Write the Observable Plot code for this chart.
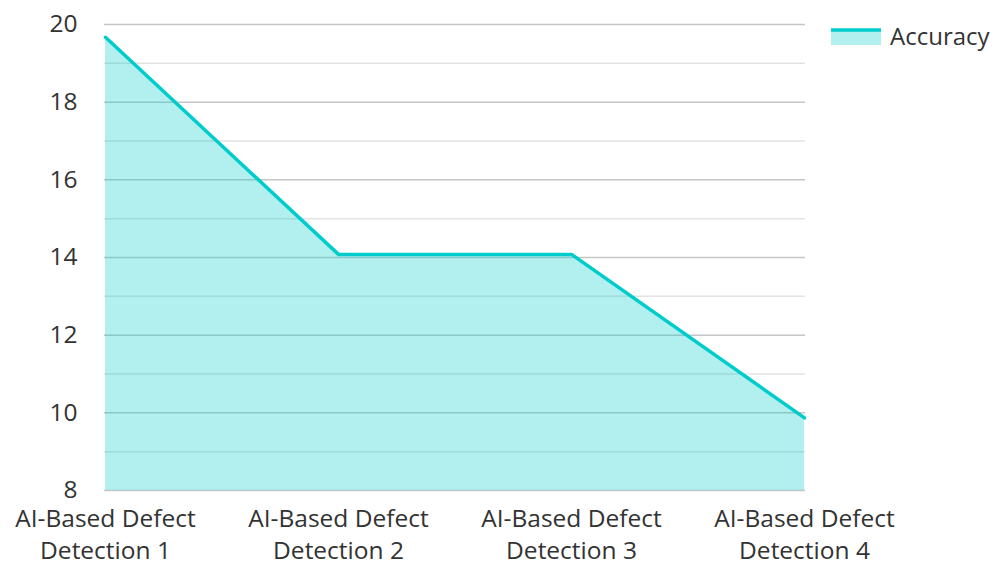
<!DOCTYPE html>
<html>
<head>
<meta charset="utf-8">
<script src="https://cdn.jsdelivr.net/npm/d3@7"></script>
<script src="https://cdn.jsdelivr.net/npm/@observablehq/plot@0.6"></script>
<style>
  html, body { margin: 0; padding: 0; background: #fff; }
  body { width: 995px; height: 562px; position: relative; overflow: hidden; font-family: "Open Sans", sans-serif; }
  #chart svg text { font-size: 24.5px !important; font-family: "Open Sans", sans-serif; fill: #333; }
  #legend { position: absolute; left: 831px; top: 19px; display: flex; align-items: center; font-size: 24px; color: #333; }
  #legend svg { margin-right: 9px; }
</style>
</head>
<body>
<div id="chart"></div>
<div id="legend"></div>
<script>
const categories = ["AI-Based Defect\nDetection 1", "AI-Based Defect\nDetection 2", "AI-Based Defect\nDetection 3", "AI-Based Defect\nDetection 4"];
const accuracy = [19.67, 14.08, 14.08, 9.87];
const yTicks = [8, 10, 12, 14, 16, 18, 20];
const minorTicks = [9, 11, 13, 15, 17, 19];
const seriesName = "Accuracy";
const lineColor = "#00CCCC";

const data = categories.map((c, i) => ({ category: c, value: accuracy[i] }));

const chart = Plot.plot({
  width: 995,
  height: 562,
  marginLeft: 104,
  marginRight: 190,
  marginTop: 24,
  marginBottom: 72,
  style: { fontFamily: "Open Sans, sans-serif", fontSize: "24.5px", color: "#333", background: "#fff", overflow: "visible" },
  x: { type: "point", domain: categories, padding: 0, label: null },
  y: { domain: [8, 20], label: null },
  marks: [
    Plot.ruleY(minorTicks, { stroke: "#e3e3e3", strokeWidth: 1.5 }),
    Plot.ruleY(yTicks, { stroke: "#c6c6c6", strokeWidth: 1.5 }),
    Plot.areaY(data, { x: "category", y1: 8, y2: "value", fill: lineColor, fillOpacity: 0.3 }),
    Plot.lineY(data, { x: "category", y: "value", stroke: lineColor, strokeWidth: 3.5 }),
    Plot.axisY(yTicks, { tickSize: 0, tickPadding: 27, fontSize: 24.5, fill: "#333" }),
    Plot.axisX({ tickSize: 0, tickPadding: 14, fontSize: 24.5, lineHeight: 1.3, fill: "#333" })
  ]
});
document.getElementById("chart").appendChild(chart);

document.getElementById("legend").innerHTML =
  `<svg width="50" height="18"><rect x="0" y="2" width="50" height="16" fill="${lineColor}" fill-opacity="0.3"></rect><line x1="0" x2="50" y1="3" y2="3" stroke="${lineColor}" stroke-width="3.5"></line></svg><span>${seriesName}</span>`;
</script>
</body>
</html>
